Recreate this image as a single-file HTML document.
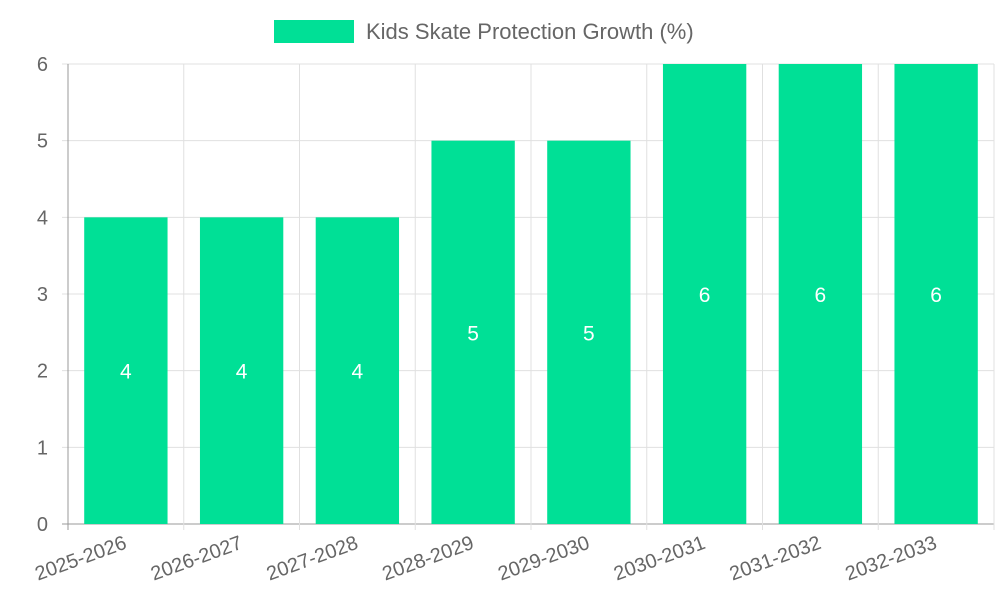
<!DOCTYPE html>
<html><head><meta charset="utf-8"><style>
body{margin:0;background:#fff;font-family:"Liberation Sans",sans-serif}
</style></head><body>
<svg id="chart" width="1000" height="600" xmlns="http://www.w3.org/2000/svg"></svg>
<script>
const categories=["2025-2026","2026-2027","2027-2028","2028-2029","2029-2030","2030-2031","2031-2032","2032-2033"];
const values=[4,4,4,5,5,6,6,6];
const yTicks=[0,1,2,3,4,5,6];
const seriesName="Kids Skate Protection Growth (%)";
const svg=document.getElementById('chart');
const NS="http://www.w3.org/2000/svg";
const L=68,R=994,T=64,B=524,yMax=6;
const bw=(R-L)/categories.length;
const y=v=>B-(v/yMax)*(B-T);
const xc=i=>L+bw*(i+0.5);
function mk(tag,attrs,parent){const e=document.createElementNS(NS,tag);for(const k in attrs)e.setAttribute(k,attrs[k]);(parent||svg).appendChild(e);return e;}
// legend
const lg=mk('g',{});


mk('rect',{x:274,y:20,width:80,height:23,fill:'#00E096'},lg);
const lt=mk('text',{x:366,y:39,'font-size':22,fill:'#666'},lg);lt.textContent=seriesName;
// grid
yTicks.forEach(t=>{
  const g=mk('line',{x1:62,x2:R,y1:y(t),y2:y(t),stroke:t===0?'#999':'#e0e0e0','stroke-width':1});
  
  
  const tx=mk('text',{x:48,y:y(t)+7,'font-size':20,fill:'#666','text-anchor':'end'});
  
  
  tx.textContent=t;
});
for(let i=0;i<=categories.length;i++){
  const x=L+bw*i;
  const g=mk('line',{x1:x,x2:x,y1:T,y2:B+6,stroke:i===0?'#999':'#e0e0e0','stroke-width':1});
  
  
}
categories.forEach((c,i)=>{
  const w=bw*0.72,h=B-y(values[i]);
  const r=mk('rect',{x:xc(i)-w/2,y:y(values[i]),width:w,height:h,fill:'#00E096'});
  
  
  const v=mk('text',{x:xc(i),y:y(values[i]/2)+8,'font-size':21,fill:'#fff','text-anchor':'middle'});
  
  
  v.textContent=values[i];
  const cx=xc(i)+2,cy=548;
  const t=mk('text',{x:cx,y:cy,'font-size':20,fill:'#666','text-anchor':'end',transform:`rotate(-20 ${cx} ${cy})`});
  
  
  t.textContent=c;
});
</script>
</body></html>
